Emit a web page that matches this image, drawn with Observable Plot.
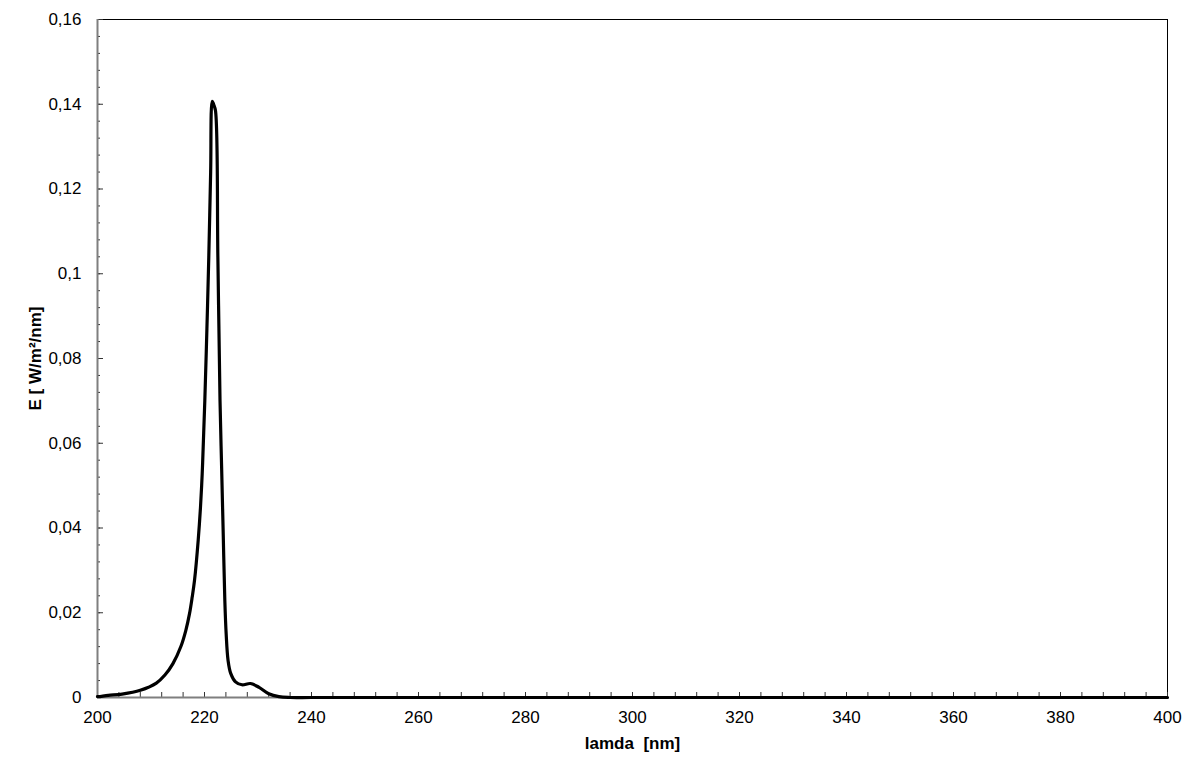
<!DOCTYPE html>
<html>
<head>
<meta charset="utf-8">
<script src="https://cdn.jsdelivr.net/npm/d3@7"></script>
<script src="https://cdn.jsdelivr.net/npm/@observablehq/plot@0.6"></script>
<style>
  html, body { margin: 0; padding: 0; background: #fff; }
  svg { font-family: "Liberation Sans", Arial, sans-serif; }
</style>
</head>
<body>
<div id="chart"></div>
<script>
const wavelength = [200, 200.2, 202, 204.6, 208.0, 211.0, 212.6, 214.1, 215.6, 216.5, 217.2, 217.7, 218.13, 218.82, 219.25, 219.57, 219.8, 220.06, 220.45, 220.8, 221.15, 221.45, 221.7, 222.05, 222.5, 222.9, 223.2, 223.5, 223.8, 224.05, 224.4, 224.9, 225.8, 227.0, 228.6, 230.2, 232.0, 233.9, 236, 240, 260, 300, 350, 400];
const irradiance = [0.0002, 0.0002, 0.0005, 0.0008, 0.0017, 0.0034, 0.0053, 0.0080, 0.0121, 0.0158, 0.0198, 0.0237, 0.0276, 0.0371, 0.0449, 0.0528, 0.0607, 0.0701, 0.087, 0.1039, 0.124, 0.1407, 0.1400, 0.1385, 0.1039, 0.0701, 0.0543, 0.0386, 0.0229, 0.0150, 0.0088, 0.0057, 0.0037, 0.0030, 0.0033, 0.0024, 0.0009, 0.0002, 0, 0, 0, 0, 0, 0];

const xMajor = d3.range(200, 401, 20);
const xMinor = d3.range(200, 401, 4);
const yMajor = [0, 0.02, 0.04, 0.06, 0.08, 0.1, 0.12, 0.14, 0.16];
const yMinor = d3.range(0, 0.1601, 0.004);

const xTitle = "lamda  [nm]";
const yTitle = "E [ W/m²/nm]";

const data = wavelength.map((w, i) => ({w, e: irradiance[i]}));
const fmtY = d => String(+d.toFixed(3)).replace(".", ",");

const chart = Plot.plot({
  width: 1200,
  height: 776,
  marginLeft: 97,
  marginRight: 33,
  marginTop: 19,
  marginBottom: 79,
  style: {fontFamily: "'Liberation Sans', Arial, sans-serif", background: "#fff"},
  x: {domain: [200, 400]},
  y: {domain: [0, 0.16]},
  marks: [
    Plot.frame({stroke: "#000", strokeWidth: 1}),
    // inward tick marks
    Plot.axisX(xMinor, {tickSize: -5, text: null, label: null, stroke: "#333"}),
    Plot.axisY(yMinor, {tickSize: -3, text: null, label: null, stroke: "#333"}),
    Plot.axisY(yMajor, {tickSize: -6, text: null, label: null, stroke: "#333"}),
    // tick labels
    Plot.axisX(xMajor, {tickSize: 0, tickPadding: 13, fontSize: 17, label: null, fill: "#000"}),
    Plot.axisY(yMajor, {tickSize: 0, tickPadding: 16, fontSize: 17, label: null, tickFormat: fmtY, fill: "#000"}),
    Plot.ruleX([200], {stroke: "#7f7f7f", strokeWidth: 2}),
    Plot.ruleY([0], {stroke: "#7f7f7f", strokeWidth: 2}),
    Plot.line(data, {x: "w", y: "e", stroke: "#000", strokeWidth: 3.2, curve: "catmull-rom"}),
    Plot.text([xTitle], {frameAnchor: "bottom", dy: 51, fontSize: 17, fontWeight: "bold", fill: "#000"}),
    Plot.text([yTitle], {frameAnchor: "left", dx: -62, rotate: -90, textAnchor: "middle", fontSize: 17, fontWeight: "bold", fill: "#000"})
  ]
});
document.getElementById("chart").appendChild(chart);
</script>
</body>
</html>
